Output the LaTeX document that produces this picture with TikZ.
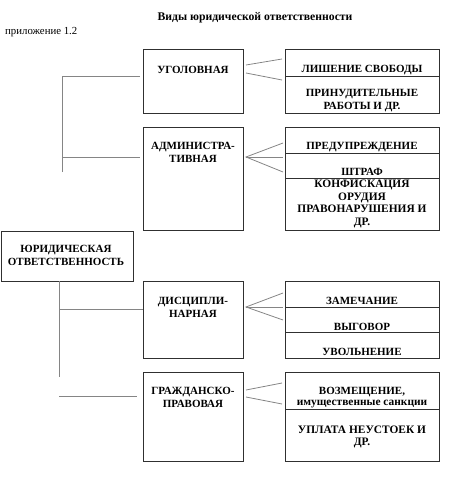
\documentclass[tikz,border=0pt]{standalone}
\usepackage{fontspec}
\setmainfont{Liberation Serif}
\definecolor{boxc}{HTML}{303030}
\definecolor{linec}{HTML}{858585}
\begin{document}
\begin{tikzpicture}[x=1pt,y=-1pt,
  box/.style={draw=boxc, line width=0.9pt, anchor=north west, inner sep=0pt},
  conn/.style={draw=linec, line width=0.8pt},
  lbl/.style={font=\bfseries\fontsize{11}{12.8}\selectfont, align=center, inner sep=0pt, text=black}]
\useasboundingbox (0,0) rectangle (474,492);
% title
\node[font=\bfseries\fontsize{11.7}{14}\selectfont, inner sep=0] (title) at (255,18) {Виды юридической ответственности};
\node[font=\fontsize{10.8}{13}\selectfont, anchor=west, inner sep=0] (app) at (5,32) {приложение 1.2};
% central box
\node[box, minimum width=132pt, minimum height=50pt] (jur) at (0.5,231) {};
\node[lbl] (jurt) at (66,255.5) {ЮРИДИЧЕСКАЯ\\ОТВЕТСТВЕННОСТЬ};
% left boxes
\node[box, minimum width=100pt, minimum height=64pt] (ug) at (143,49) {};
\node[box, minimum width=100pt, minimum height=103pt] (adm) at (143,127) {};
\node[box, minimum width=100pt, minimum height=77pt] (dis) at (143,281) {};
\node[box, minimum width=100pt, minimum height=89pt] (gr) at (143,372) {};
\node[lbl] (ugt) at (193,70) {УГОЛОВНАЯ};
\node[lbl] (admt) at (193,152.5) {АДМИНИСТРА-\\ТИВНАЯ};
\node[lbl] (dist) at (193,307.5) {ДИСЦИПЛИ-\\НАРНАЯ};
\node[lbl] (grt) at (193,397.5) {ГРАЖДАНСКО-\\ПРАВОВАЯ};
% right cells
\node[box, minimum width=154pt, minimum height=27pt] (r1a) at (285,49) {};
\node[box, minimum width=154pt, minimum height=37pt] (r1b) at (285,76) {};
\node[box, minimum width=154pt, minimum height=26pt] (r2a) at (285,127) {};
\node[box, minimum width=154pt, minimum height=25pt] (r2b) at (285,153) {};
\node[box, minimum width=154pt, minimum height=52pt] (r2c) at (285,178) {};
\node[box, minimum width=154pt, minimum height=26pt] (r3a) at (285,281) {};
\node[box, minimum width=154pt, minimum height=25pt] (r3b) at (285,307) {};
\node[box, minimum width=154pt, minimum height=26pt] (r3c) at (285,332) {};
\node[box, minimum width=154pt, minimum height=37pt] (r4a) at (285,372) {};
\node[box, minimum width=154pt, minimum height=52pt] (r4b) at (285,409) {};
\node[lbl] (t1a) at (362,70) {ЛИШЕНИЕ СВОБОДЫ};
\node[lbl] (t1b) at (362,100.5) {ПРИНУДИТЕЛЬНЫЕ\\РАБОТЫ И ДР.};
\node[lbl] (t2a) at (362,147) {ПРЕДУПРЕЖДЕНИЕ};
\node[lbl] (t2b) at (362,172) {ШТРАФ};
\node[lbl, font=\bfseries\fontsize{11.4}{12.6}\selectfont] (t2c) at (362,204) {КОНФИСКАЦИЯ\\ОРУДИЯ\\ПРАВОНАРУШЕНИЯ И\\ДР.};
\node[lbl] (t3a) at (362,301) {ЗАМЕЧАНИЕ};
\node[lbl] (t3b) at (362,327) {ВЫГОВОР};
\node[lbl] (t3c) at (362,352) {УВОЛЬНЕНИЕ};
\node[lbl] (t4a) at (362,392) {ВОЗМЕЩЕНИЕ,};
\node[lbl, font=\bfseries\fontsize{11.4}{12.6}\selectfont] (t4a2) at (362,404.5) {имущественные санкции};
\node[lbl, font=\bfseries\fontsize{11.4}{12.6}\selectfont] (t4b) at (362,437) {УПЛАТА НЕУСТОЕК И\\ДР.};
% tree coordinates
\coordinate (u0) at (62,172);
\coordinate (u1) at (62,76);
\coordinate (u2) at (140,76);
\coordinate (u3) at (62,157);
\coordinate (u4) at (140,157);
\coordinate (d0) at (59,281);
\coordinate (d1) at (59,377);
\coordinate (d2) at (59,309);
\coordinate (d3) at (143,309);
\coordinate (d4) at (59,396);
\coordinate (d5) at (137,396);
\draw[conn] (u0) -- (u1) -- (u2);
\draw[conn] (u3) -- (u4);
\draw[conn] (d0) -- (d1);
\draw[conn] (d2) -- (d3);
\draw[conn] (d4) -- (d5);
% fans
\coordinate (fa1) at (246,65); \coordinate (fb1) at (282,59);
\coordinate (fa2) at (246,73); \coordinate (fb2) at (282,80);
\draw[conn] (fa1) -- (fb1);
\draw[conn] (fa2) -- (fb2);
\coordinate (ga) at (246,157);
\coordinate (gb1) at (283,143); \coordinate (gb2) at (283,157); \coordinate (gb3) at (283,172);
\draw[conn] (gb1) -- (ga) -- (gb3);
\draw[conn] (ga) -- (gb2);
\coordinate (ha) at (246,307);
\coordinate (hb1) at (283,293); \coordinate (hb2) at (283,307); \coordinate (hb3) at (283,320);
\draw[conn] (hb1) -- (ha) -- (hb3);
\draw[conn] (ha) -- (hb2);
\coordinate (ka1) at (246,390); \coordinate (kb1) at (282,383);
\coordinate (ka2) at (246,397); \coordinate (kb2) at (282,404);
\draw[conn] (ka1) -- (kb1);
\draw[conn] (ka2) -- (kb2);
\end{tikzpicture}
\end{document}
